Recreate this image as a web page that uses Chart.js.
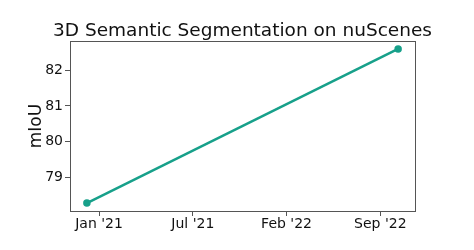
<!DOCTYPE html>
<html>
<head>
<meta charset="utf-8">
<script src="https://cdn.jsdelivr.net/npm/chart.js@4"></script>
<style>
html,body{margin:0;padding:0;background:#fff;}
canvas{display:block;}
</style>
</head>
<body>
<canvas id="c" width="474" height="250"></canvas>
<script>
// Data
const tickLabels = ["Jan '21", "Jul '21", "Feb '22", "Sep '22"];
const tickPositions = [0, 1, 2, 3];
const pointX = [-0.13, 3.19];
const miou = [78.29, 82.59];
const yTicks = [79, 80, 81, 82];

const teal = '#17a08a';
const axisColor = '#555';
const font = "'DejaVu Sans', sans-serif";

const boxPlugin = {
  id: 'box',
  afterDraw(chart) {
    const {ctx, chartArea: a} = chart;
    ctx.save();
    ctx.strokeStyle = axisColor;
    ctx.lineWidth = 1;
    ctx.strokeRect(Math.round(a.left) + 0.5, Math.round(a.top) + 0.5,
      Math.round(a.right - a.left), Math.round(a.bottom - a.top));
    ctx.restore();
  }
};

new Chart(document.getElementById('c'), {
  type: 'scatter',
  data: {
    datasets: [{
      data: pointX.map((x, i) => ({x: x, y: miou[i]})),
      showLine: true,
      borderColor: teal,
      backgroundColor: teal,
      borderWidth: 2.5,
      pointRadius: 2.5,
      pointHoverRadius: 2.5
    }]
  },
  options: {
    responsive: false,
    animation: false,
    layout: {padding: {left: 11, right: 0, top: 0, bottom: 0}},
    plugins: {
      legend: {display: false},
      tooltip: {enabled: false},
      title: {
        display: true,
        text: '3D Semantic Segmentation on nuScenes',
        color: '#111',
        font: {family: font, size: 18.5, weight: 'normal', lineHeight: 1.2},
        padding: {top: 20, bottom: -1.2}
      }
    },
    scales: {
      x: {
        type: 'linear',
        min: -0.31,
        max: 3.37,
        afterFit(s) { s.height = 39; },
        afterBuildTicks(s) { s.ticks = tickPositions.map(v => ({value: v})); },
        grid: {drawOnChartArea: false, drawTicks: true, tickLength: 5, color: axisColor},
        border: {display: false},
        ticks: {
          color: '#111',
          font: {family: font, size: 14},
          padding: 0,
          maxRotation: 0,
          callback: (v) => tickLabels[tickPositions.indexOf(v)] ?? ''
        }
      },
      y: {
        type: 'linear',
        min: 78.07,
        max: 82.81,
        afterFit(s) { s.width = 59; },
        afterBuildTicks(s) { s.ticks = yTicks.map(v => ({value: v})); },
        grid: {drawOnChartArea: false, drawTicks: true, tickLength: 5, color: axisColor},
        border: {display: false},
        title: {
          display: true,
          text: 'mIoU',
          color: '#111',
          font: {family: font, size: 17, lineHeight: 1.2},
          padding: {top: 15, bottom: 0}
        },
        ticks: {
          color: '#111',
          font: {family: font, size: 14},
          padding: 2,
          callback: (v) => String(v)
        }
      },
      yRight: {
        type: 'linear',
        position: 'right',
        display: true,
        min: 78.07,
        max: 82.81,
        afterFit(s) { s.width = 59; },
        grid: {display: false},
        border: {display: false},
        ticks: {display: false}
      }
    }
  },
  plugins: [boxPlugin]
});
</script>
</body>
</html>
